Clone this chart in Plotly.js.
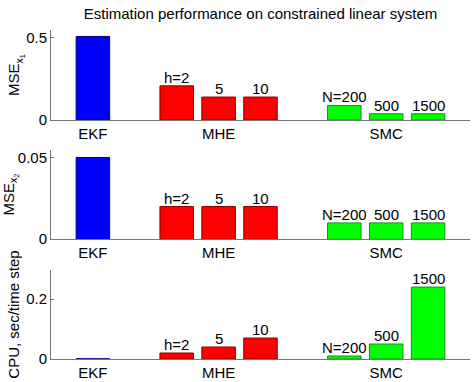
<!DOCTYPE html>
<html>
<head>
<meta charset="utf-8">
<script src="https://cdn.plot.ly/plotly-3.0.1.min.js"></script>
<style>html,body{margin:0;padding:0;background:#fff}#chart{width:474px;height:382px}</style>
</head>
<body>
<div id="chart"></div>
<script>
// ---- data ----
const methods = ['EKF', 'MHE', 'SMC'];
const ekfLabels = [''];
const mheLabels = ['h=2', '5', '10'];
const smcLabels = ['N=200', '500', '1500'];

const ekfMseX1 = [0.506];
const mheMseX1 = [0.207, 0.139, 0.139];
const smcMseX1 = [0.088, 0.038, 0.038];

const ekfMseX2 = [0.050];
const mheMseX2 = [0.020, 0.020, 0.020];
const smcMseX2 = [0.010, 0.010, 0.010];

const ekfCpu = [0.0005];
const mheCpu = [0.020, 0.040, 0.070];
const smcCpu = [0.010, 0.050, 0.240];

const yTitles = ['MSE<sub>x<sub>1</sub></sub>', 'MSE<sub>x<sub>2</sub></sub>', 'CPU, sec/time step'];
const yTickVals = [[0, 0.5], [0, 0.05], [0, 0.2]];
const yTickText = [['0', '0.5'], ['0', '0.05'], ['0', '0.2']];
const yMax = [0.545, 0.0545, 0.297];
const titleText = 'Estimation performance on constrained linear system';

// ---- layout helpers ----
const groupCenters = [1, 4, 8];
const groupLabels = [ekfLabels, mheLabels, smcLabels];
const colors = ['#0000ff', '#ff0000', '#00ff00'];
const edges = ['#00007a', '#8a0000', '#208a20'];
const panels = [
  [ekfMseX1, mheMseX1, smcMseX1],
  [ekfMseX2, mheMseX2, smcMseX2],
  [ekfCpu, mheCpu, smcCpu]
];
const domains = [[0.7264, 1], [0.364, 0.635], [0, 0.2705]];
const FONT = 'Liberation Sans, Arial, sans-serif';

const traces = [];
const annotations = [];
panels.forEach((groups, p) => {
  const xa = p === 0 ? 'x' : 'x' + (p + 1);
  const ya = p === 0 ? 'y' : 'y' + (p + 1);
  groups.forEach((vals, g) => {
    const n = vals.length;
    const xs = vals.map((_, i) => groupCenters[g] + i - (n - 1) / 2);
    traces.push({
      type: 'bar', x: xs, y: vals, xaxis: xa, yaxis: ya,
      width: 0.8,
      marker: {color: colors[g], line: {color: edges[g], width: 1}},
      hoverinfo: 'x+y', showlegend: false
    });
    vals.forEach((v, i) => {
      const lbl = groupLabels[g][i];
      if (!lbl) return;
      annotations.push({
        xref: xa, yref: ya, x: xs[i], y: v, text: lbl,
        showarrow: false, xanchor: 'center', yanchor: 'bottom', yshift: -2,
        font: {family: FONT, size: 15, color: '#000'}
      });
    });
  });
});

const layout = {
  width: 474, height: 382,
  margin: {l: 51, r: 4, t: 30, b: 23},
  paper_bgcolor: '#fff', plot_bgcolor: '#fff',
  font: {family: FONT, size: 15, color: '#000'},
  title: {text: titleText, font: {family: FONT, size: 15, color: '#000'},
          x: 0.5, xref: 'paper', y: 0.965, yanchor: 'middle'},
  annotations: annotations
};
for (let p = 0; p < 3; p++) {
  const sx = p === 0 ? '' : String(p + 1);
  layout['xaxis' + sx] = {
    domain: [0, 1], range: [0, 10], anchor: 'y' + sx,
    tickvals: groupCenters, ticktext: methods, ticks: '',
    showline: true, linecolor: '#777', linewidth: 1, showgrid: false, zeroline: false,
    tickfont: {family: FONT, size: 15, color: '#000'}, fixedrange: true
  };
  layout['yaxis' + sx] = {
    domain: domains[p], range: [0, yMax[p]], anchor: 'x' + sx,
    tickvals: yTickVals[p], ticktext: yTickText[p], ticks: 'inside', ticklen: 3,
    tickcolor: '#777', showline: true, linecolor: '#777', linewidth: 1,
    showgrid: false, zeroline: false,
    tickfont: {family: FONT, size: 15, color: '#000'},
    title: {text: yTitles[p], font: {family: FONT, size: 15, color: '#000'}, standoff: 2},
    fixedrange: true
  };
}

Plotly.newPlot('chart', traces, layout, {displayModeBar: false, staticPlot: true});
</script>
</body>
</html>
